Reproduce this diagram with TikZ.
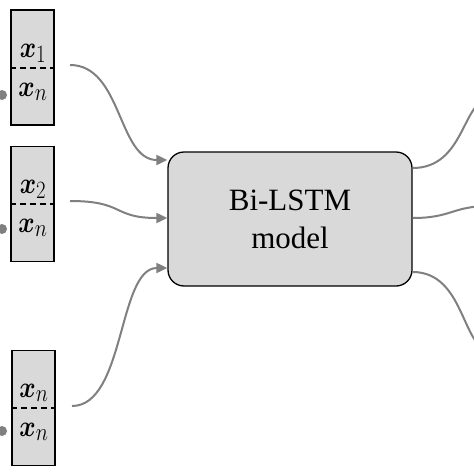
\documentclass[tikz,border=0pt]{standalone}
\usepackage{fontspec}
\setmainfont{Liberation Serif}
\usepackage{amsmath}
\usepackage{bm}
\usetikzlibrary{arrows.meta}
\definecolor{boxgray}{HTML}{D9D9D9}
\definecolor{linegray}{HTML}{808080}
\tikzset{
  seqbox/.style={draw=black, line width=1.5pt, fill=boxgray, minimum width=43pt, minimum height=115pt, inner sep=0pt},
  sepline/.style={draw=black, line width=1.5pt, dash pattern=on 6pt off 4pt},
  sym/.style={font=\Huge, xscale=1.0, yscale=1.2, inner sep=0pt, anchor=base},
  model/.style={draw=black, line width=1.3pt, fill=boxgray, rounded corners=16pt, minimum width=244pt, minimum height=134pt, align=center, font=\fontsize{31}{38}\selectfont},
  conn/.style={draw=linegray, line width=2pt},
  arr/.style={conn, -{Triangle[length=11pt,width=10pt]}},
  dotmark/.style={circle, fill=linegray, inner sep=0pt, minimum size=10pt}
}
\begin{document}
\begin{tikzpicture}[x=1pt,y=-1pt]
\useasboundingbox (0,0) rectangle (474,474);
\clip (0,0) rectangle (474,474);
% input boxes
\node[seqbox] (b1) at (32.5,67.5) {};
\node[seqbox] (b2) at (32.5,204) {};
\node[seqbox] (b3) at (33.5,408) {};
\draw[sepline] (b1.west |- 0,68) -- (b1.east |- 0,68);
\draw[sepline] (b2.west |- 0,204) -- (b2.east |- 0,204);
\draw[sepline] (b3.west |- 0,408) -- (b3.east |- 0,408);
\node[sym] (t1a) at (33,57) {$\bm{x}_1$};
\node[sym] (t1b) at (33,96) {$\bm{x}_n$};
\node[sym] (t2a) at (33,193) {$\bm{x}_2$};
\node[sym] (t2b) at (33,232) {$\bm{x}_n$};
\node[sym] (t3a) at (34,397) {$\bm{x}_n$};
\node[sym] (t3b) at (34,436) {$\bm{x}_n$};
% dots
\node[dotmark] (d1) at (2,95) {};
\node[dotmark] (d2) at (2,229) {};
\node[dotmark] (d3) at (2,431) {};
% model
\node[model] (m) at (290,219) {Bi-LSTM\\model};
% input connectors
\coordinate (s1) at (70,65);
\coordinate (s2) at (70,201);
\coordinate (s3) at (72,406);
\draw[arr] (s1) .. controls (122,65) and (118,160) .. ([yshift=59pt]m.west);
\draw[arr] (s2) .. controls (125,201) and (112,218) .. ([yshift=1pt]m.west);
\draw[arr] (s3) .. controls (125,406) and (118,268) .. ([yshift=-49pt]m.west);
% output connectors
\coordinate (o1) at (490,98);
\coordinate (o2) at (490,206);
\coordinate (o3) at (490,350);
\draw[conn] ([yshift=51pt]m.east) .. controls (465,168) and (462,100) .. (o1);
\draw[conn] ([yshift=1pt]m.east) .. controls (452,218) and (452,206) .. (o2);
\draw[conn] ([yshift=-53pt]m.east) .. controls (465,272) and (462,350) .. (o3);
\end{tikzpicture}
\end{document}
